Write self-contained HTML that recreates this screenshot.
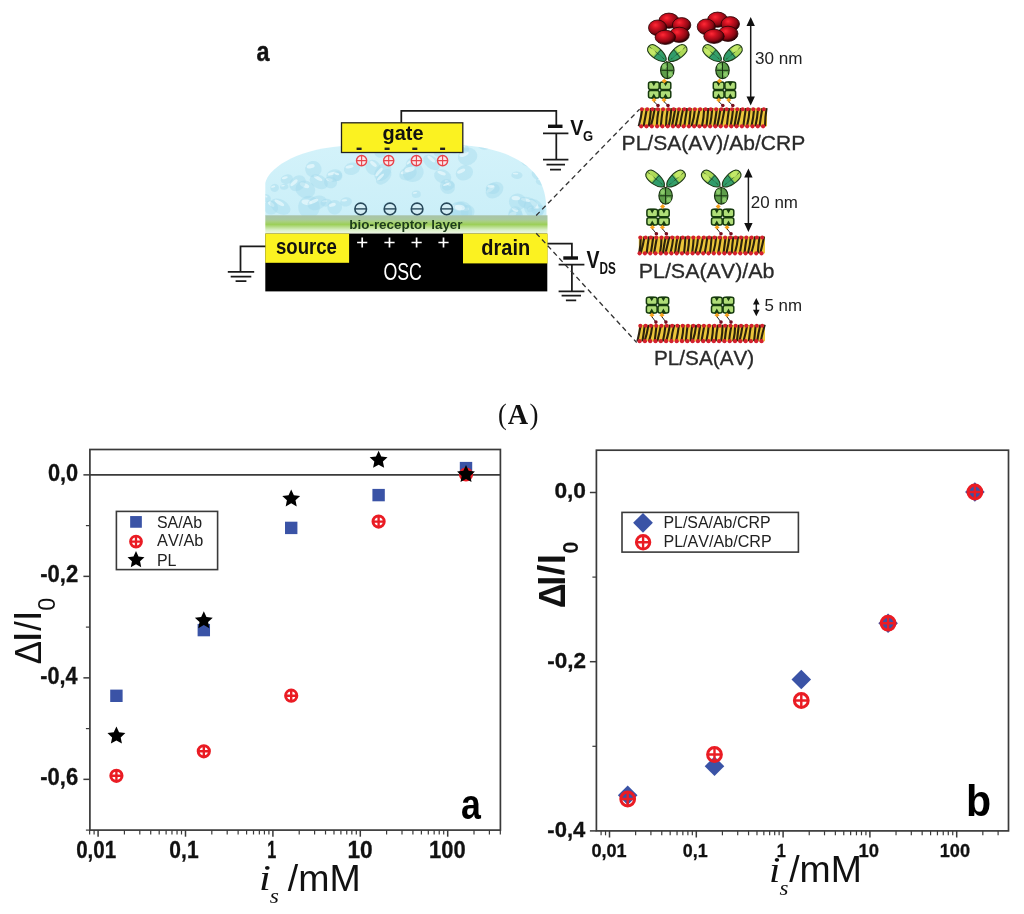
<!DOCTYPE html>
<html><head><meta charset="utf-8"><title>Figure</title>
<style>html,body{margin:0;padding:0;background:#fff;width:1024px;height:914px;overflow:hidden}svg{display:block}text{font-kerning:none}</style>
</head><body>
<svg width="1024" height="914" viewBox="0 0 1024 914" style="font-kerning:none">
<rect width="1024" height="914" fill="#fff"/>
<defs>
<linearGradient id="water" x1="0" y1="0" x2="0" y2="1">
<stop offset="0" stop-color="#d3f2fa"/><stop offset="1" stop-color="#cbeff8"/></linearGradient>
<linearGradient id="bio" x1="0" y1="0" x2="0" y2="1">
<stop offset="0" stop-color="#a9c3a8"/><stop offset="0.22" stop-color="#a9c9a0"/><stop offset="0.35" stop-color="#a8d07e"/><stop offset="0.5" stop-color="#9ccf58"/><stop offset="0.8" stop-color="#d9efc6"/><stop offset="1" stop-color="#eef8e6"/></linearGradient>
<radialGradient id="crp" cx="0.4" cy="0.35" r="0.7">
<stop offset="0" stop-color="#f0303a"/><stop offset="0.55" stop-color="#c3101c"/><stop offset="1" stop-color="#5a0508"/></radialGradient>
<clipPath id="blobclip"><path d="M265.3,216 V183 C268,170 292,150 342,146 L465,145.5 C500,148 528,160 540,181 C545,191 546.5,200 546.5,216 Z"/></clipPath>
</defs>
<text transform="translate(256.60,60.62) scale(0.8237,1)" font-family='"Liberation Sans", Arial, sans-serif' font-weight="bold" font-size="28.36" fill="#111" stroke="#111" stroke-width="0.45">a</text>
<path d="M265.3,216 V183 C268,170 292,150 342,146 L465,145.5 C500,148 528,160 540,181 C545,191 546.5,200 546.5,216 Z" fill="url(#water)"/>
<g clip-path="url(#blobclip)"><g transform="translate(330.5,182.4) rotate(13)"><ellipse rx="6.6" ry="5.9" fill="#a2d8ec" opacity="0.42"/><ellipse cx="-1.6" cy="-2.4" rx="3.3" ry="1.5" fill="#f4fdff" opacity="0.6"/></g><g transform="translate(280.9,141.0) rotate(-27)"><ellipse rx="9.9" ry="7.2" fill="#a2d8ec" opacity="0.42"/><ellipse cx="-2.5" cy="-2.9" rx="4.9" ry="1.8" fill="#f4fdff" opacity="0.6"/></g><g transform="translate(548.7,176.7) rotate(14)"><ellipse rx="9.9" ry="8.3" fill="#a2d8ec" opacity="0.42"/><ellipse cx="-2.5" cy="-3.3" rx="4.9" ry="2.1" fill="#f4fdff" opacity="0.6"/></g><g transform="translate(305.4,189.5) rotate(24)"><ellipse rx="10.1" ry="8.7" fill="#a2d8ec" opacity="0.42"/><ellipse cx="-2.5" cy="-3.5" rx="5.0" ry="2.2" fill="#f4fdff" opacity="0.6"/></g><g transform="translate(455.4,145.0) rotate(-20)"><ellipse rx="9.3" ry="8.3" fill="#a2d8ec" opacity="0.42"/><ellipse cx="-2.3" cy="-3.3" rx="4.7" ry="2.1" fill="#f4fdff" opacity="0.6"/></g><g transform="translate(270.9,207.5) rotate(38)"><ellipse rx="7.3" ry="7.0" fill="#a2d8ec" opacity="0.42"/><ellipse cx="-1.8" cy="-2.8" rx="3.7" ry="1.8" fill="#f4fdff" opacity="0.6"/></g><g transform="translate(467.7,211.8) rotate(-6)"><ellipse rx="6.8" ry="6.8" fill="#a2d8ec" opacity="0.42"/><ellipse cx="-1.7" cy="-2.7" rx="3.4" ry="1.7" fill="#f4fdff" opacity="0.6"/></g><g transform="translate(531.4,208.6) rotate(-28)"><ellipse rx="4.7" ry="3.1" fill="#a2d8ec" opacity="0.42"/><ellipse cx="-1.2" cy="-1.3" rx="2.3" ry="0.8" fill="#f4fdff" opacity="0.6"/></g><g transform="translate(540.1,174.0) rotate(1)"><ellipse rx="8.4" ry="6.3" fill="#a2d8ec" opacity="0.42"/><ellipse cx="-2.1" cy="-2.5" rx="4.2" ry="1.6" fill="#f4fdff" opacity="0.6"/></g><g transform="translate(373.1,167.4) rotate(40)"><ellipse rx="8.1" ry="7.2" fill="#a2d8ec" opacity="0.42"/><ellipse cx="-2.0" cy="-2.9" rx="4.0" ry="1.8" fill="#f4fdff" opacity="0.6"/></g><g transform="translate(458.4,212.5) rotate(17)"><ellipse rx="10.0" ry="10.9" fill="#a2d8ec" opacity="0.42"/><ellipse cx="-2.5" cy="-4.4" rx="5.0" ry="2.7" fill="#f4fdff" opacity="0.6"/></g><g transform="translate(309.0,207.1) rotate(7)"><ellipse rx="10.8" ry="11.3" fill="#a2d8ec" opacity="0.42"/><ellipse cx="-2.7" cy="-4.5" rx="5.4" ry="2.8" fill="#f4fdff" opacity="0.6"/></g><g transform="translate(467.6,156.5) rotate(-22)"><ellipse rx="9.8" ry="8.7" fill="#a2d8ec" opacity="0.42"/><ellipse cx="-2.5" cy="-3.5" rx="4.9" ry="2.2" fill="#f4fdff" opacity="0.6"/></g><g transform="translate(280.3,206.6) rotate(30)"><ellipse rx="10.9" ry="7.0" fill="#a2d8ec" opacity="0.42"/><ellipse cx="-2.7" cy="-2.8" rx="5.5" ry="1.8" fill="#f4fdff" opacity="0.6"/></g><g transform="translate(380.2,151.8) rotate(37)"><ellipse rx="6.1" ry="6.0" fill="#a2d8ec" opacity="0.42"/><ellipse cx="-1.5" cy="-2.4" rx="3.0" ry="1.5" fill="#f4fdff" opacity="0.6"/></g><g transform="translate(274.7,187.9) rotate(-17)"><ellipse rx="4.3" ry="4.1" fill="#a2d8ec" opacity="0.42"/><ellipse cx="-1.1" cy="-1.7" rx="2.2" ry="1.0" fill="#f4fdff" opacity="0.6"/></g><g transform="translate(515.7,216.5) rotate(-19)"><ellipse rx="7.5" ry="8.3" fill="#a2d8ec" opacity="0.42"/><ellipse cx="-1.9" cy="-3.3" rx="3.8" ry="2.1" fill="#f4fdff" opacity="0.6"/></g><g transform="translate(284.2,186.8) rotate(-9)"><ellipse rx="4.2" ry="2.9" fill="#a2d8ec" opacity="0.42"/><ellipse cx="-1.1" cy="-1.2" rx="2.1" ry="0.7" fill="#f4fdff" opacity="0.6"/></g><g transform="translate(437.8,152.2) rotate(-19)"><ellipse rx="4.3" ry="4.4" fill="#a2d8ec" opacity="0.42"/><ellipse cx="-1.1" cy="-1.8" rx="2.1" ry="1.1" fill="#f4fdff" opacity="0.6"/></g><g transform="translate(538.1,209.9) rotate(2)"><ellipse rx="6.6" ry="5.5" fill="#a2d8ec" opacity="0.42"/><ellipse cx="-1.7" cy="-2.2" rx="3.3" ry="1.4" fill="#f4fdff" opacity="0.6"/></g><g transform="translate(447.4,186.5) rotate(44)"><ellipse rx="7.9" ry="7.2" fill="#a2d8ec" opacity="0.42"/><ellipse cx="-2.0" cy="-2.9" rx="4.0" ry="1.8" fill="#f4fdff" opacity="0.6"/></g><g transform="translate(408.0,173.6) rotate(-20)"><ellipse rx="9.0" ry="6.5" fill="#a2d8ec" opacity="0.42"/><ellipse cx="-2.3" cy="-2.6" rx="4.5" ry="1.6" fill="#f4fdff" opacity="0.6"/></g><g transform="translate(543.6,180.6) rotate(-8)"><ellipse rx="7.8" ry="4.7" fill="#a2d8ec" opacity="0.42"/><ellipse cx="-2.0" cy="-1.9" rx="3.9" ry="1.2" fill="#f4fdff" opacity="0.6"/></g><g transform="translate(429.0,141.6) rotate(-44)"><ellipse rx="8.3" ry="7.6" fill="#a2d8ec" opacity="0.42"/><ellipse cx="-2.1" cy="-3.0" rx="4.2" ry="1.9" fill="#f4fdff" opacity="0.6"/></g><g transform="translate(442.7,176.4) rotate(21)"><ellipse rx="8.8" ry="6.8" fill="#a2d8ec" opacity="0.42"/><ellipse cx="-2.2" cy="-2.7" rx="4.4" ry="1.7" fill="#f4fdff" opacity="0.6"/></g><g transform="translate(474.6,141.7) rotate(46)"><ellipse rx="4.4" ry="4.1" fill="#a2d8ec" opacity="0.42"/><ellipse cx="-1.1" cy="-1.7" rx="2.2" ry="1.0" fill="#f4fdff" opacity="0.6"/></g><g transform="translate(334.3,175.6) rotate(-14)"><ellipse rx="8.1" ry="6.2" fill="#a2d8ec" opacity="0.42"/><ellipse cx="-2.0" cy="-2.5" rx="4.1" ry="1.5" fill="#f4fdff" opacity="0.6"/></g><g transform="translate(352.0,168.8) rotate(-12)"><ellipse rx="8.2" ry="6.1" fill="#a2d8ec" opacity="0.42"/><ellipse cx="-2.0" cy="-2.5" rx="4.1" ry="1.5" fill="#f4fdff" opacity="0.6"/></g><g transform="translate(484.4,142.1) rotate(-19)"><ellipse rx="8.0" ry="7.7" fill="#a2d8ec" opacity="0.42"/><ellipse cx="-2.0" cy="-3.1" rx="4.0" ry="1.9" fill="#f4fdff" opacity="0.6"/></g><g transform="translate(326.1,202.7) rotate(-6)"><ellipse rx="5.7" ry="3.9" fill="#a2d8ec" opacity="0.42"/><ellipse cx="-1.4" cy="-1.6" rx="2.8" ry="1.0" fill="#f4fdff" opacity="0.6"/></g><g transform="translate(463.0,147.9) rotate(33)"><ellipse rx="6.3" ry="4.8" fill="#a2d8ec" opacity="0.42"/><ellipse cx="-1.6" cy="-1.9" rx="3.1" ry="1.2" fill="#f4fdff" opacity="0.6"/></g><g transform="translate(388.3,206.7) rotate(15)"><ellipse rx="5.2" ry="4.0" fill="#a2d8ec" opacity="0.42"/><ellipse cx="-1.3" cy="-1.6" rx="2.6" ry="1.0" fill="#f4fdff" opacity="0.6"/></g><g transform="translate(516.9,175.2) rotate(3)"><ellipse rx="5.6" ry="3.7" fill="#a2d8ec" opacity="0.42"/><ellipse cx="-1.4" cy="-1.5" rx="2.8" ry="0.9" fill="#f4fdff" opacity="0.6"/></g><g transform="translate(317.0,202.9) rotate(-22)"><ellipse rx="9.9" ry="6.8" fill="#a2d8ec" opacity="0.42"/><ellipse cx="-2.5" cy="-2.7" rx="4.9" ry="1.7" fill="#f4fdff" opacity="0.6"/></g><g transform="translate(494.5,190.1) rotate(-37)"><ellipse rx="9.6" ry="7.5" fill="#a2d8ec" opacity="0.42"/><ellipse cx="-2.4" cy="-3.0" rx="4.8" ry="1.9" fill="#f4fdff" opacity="0.6"/></g><g transform="translate(346.1,201.9) rotate(-8)"><ellipse rx="5.9" ry="4.6" fill="#a2d8ec" opacity="0.42"/><ellipse cx="-1.5" cy="-1.8" rx="2.9" ry="1.1" fill="#f4fdff" opacity="0.6"/></g><g transform="translate(382.9,171.9) rotate(-50)"><ellipse rx="10.4" ry="7.1" fill="#a2d8ec" opacity="0.42"/><ellipse cx="-2.6" cy="-2.8" rx="5.2" ry="1.8" fill="#f4fdff" opacity="0.6"/></g><g transform="translate(533.7,208.6) rotate(45)"><ellipse rx="10.9" ry="8.9" fill="#a2d8ec" opacity="0.42"/><ellipse cx="-2.7" cy="-3.6" rx="5.5" ry="2.2" fill="#f4fdff" opacity="0.6"/></g><g transform="translate(529.1,157.3) rotate(16)"><ellipse rx="9.2" ry="9.4" fill="#a2d8ec" opacity="0.42"/><ellipse cx="-2.3" cy="-3.8" rx="4.6" ry="2.3" fill="#f4fdff" opacity="0.6"/></g><g transform="translate(411.5,162.5) rotate(-43)"><ellipse rx="6.4" ry="4.6" fill="#a2d8ec" opacity="0.42"/><ellipse cx="-1.6" cy="-1.8" rx="3.2" ry="1.1" fill="#f4fdff" opacity="0.6"/></g><g transform="translate(431.5,162.4) rotate(40)"><ellipse rx="9.7" ry="6.0" fill="#a2d8ec" opacity="0.42"/><ellipse cx="-2.4" cy="-2.4" rx="4.8" ry="1.5" fill="#f4fdff" opacity="0.6"/></g><g transform="translate(461.8,212.1) rotate(8)"><ellipse rx="10.3" ry="10.8" fill="#a2d8ec" opacity="0.42"/><ellipse cx="-2.6" cy="-4.3" rx="5.1" ry="2.7" fill="#f4fdff" opacity="0.6"/></g><g transform="translate(265.8,198.1) rotate(16)"><ellipse rx="5.2" ry="3.9" fill="#a2d8ec" opacity="0.42"/><ellipse cx="-1.3" cy="-1.6" rx="2.6" ry="1.0" fill="#f4fdff" opacity="0.6"/></g><g transform="translate(413.2,172.3) rotate(-16)"><ellipse rx="10.6" ry="9.6" fill="#a2d8ec" opacity="0.42"/><ellipse cx="-2.6" cy="-3.8" rx="5.3" ry="2.4" fill="#f4fdff" opacity="0.6"/></g><g transform="translate(334.7,207.2) rotate(-15)"><ellipse rx="7.3" ry="7.3" fill="#a2d8ec" opacity="0.42"/><ellipse cx="-1.8" cy="-2.9" rx="3.7" ry="1.8" fill="#f4fdff" opacity="0.6"/></g><g transform="translate(318.8,181.7) rotate(29)"><ellipse rx="9.7" ry="6.7" fill="#a2d8ec" opacity="0.42"/><ellipse cx="-2.4" cy="-2.7" rx="4.9" ry="1.7" fill="#f4fdff" opacity="0.6"/></g><g transform="translate(527.5,202.9) rotate(13)"><ellipse rx="9.8" ry="5.9" fill="#a2d8ec" opacity="0.42"/><ellipse cx="-2.4" cy="-2.4" rx="4.9" ry="1.5" fill="#f4fdff" opacity="0.6"/></g><g transform="translate(510.4,143.9) rotate(3)"><ellipse rx="5.9" ry="4.3" fill="#a2d8ec" opacity="0.42"/><ellipse cx="-1.5" cy="-1.7" rx="2.9" ry="1.1" fill="#f4fdff" opacity="0.6"/></g><g transform="translate(383.8,176.9) rotate(-45)"><ellipse rx="9.4" ry="5.7" fill="#a2d8ec" opacity="0.42"/><ellipse cx="-2.4" cy="-2.3" rx="4.7" ry="1.4" fill="#f4fdff" opacity="0.6"/></g><g transform="translate(298.5,149.7) rotate(35)"><ellipse rx="4.5" ry="4.9" fill="#a2d8ec" opacity="0.42"/><ellipse cx="-1.1" cy="-1.9" rx="2.2" ry="1.2" fill="#f4fdff" opacity="0.6"/></g><g transform="translate(286.8,179.2) rotate(-15)"><ellipse rx="6.2" ry="4.7" fill="#a2d8ec" opacity="0.42"/><ellipse cx="-1.6" cy="-1.9" rx="3.1" ry="1.2" fill="#f4fdff" opacity="0.6"/></g><g transform="translate(448.3,185.8) rotate(-17)"><ellipse rx="6.5" ry="4.5" fill="#a2d8ec" opacity="0.42"/><ellipse cx="-1.6" cy="-1.8" rx="3.3" ry="1.1" fill="#f4fdff" opacity="0.6"/></g><g transform="translate(297.6,183.3) rotate(-42)"><ellipse rx="9.0" ry="7.1" fill="#a2d8ec" opacity="0.42"/><ellipse cx="-2.3" cy="-2.8" rx="4.5" ry="1.8" fill="#f4fdff" opacity="0.6"/></g><g transform="translate(313.4,169.1) rotate(-12)"><ellipse rx="8.2" ry="8.2" fill="#a2d8ec" opacity="0.42"/><ellipse cx="-2.1" cy="-3.3" rx="4.1" ry="2.0" fill="#f4fdff" opacity="0.6"/></g><g transform="translate(492.7,188.6) rotate(-0)"><ellipse rx="7.0" ry="5.5" fill="#a2d8ec" opacity="0.42"/><ellipse cx="-1.8" cy="-2.2" rx="3.5" ry="1.4" fill="#f4fdff" opacity="0.6"/></g><g transform="translate(464.4,172.8) rotate(-25)"><ellipse rx="8.9" ry="7.4" fill="#a2d8ec" opacity="0.42"/><ellipse cx="-2.2" cy="-2.9" rx="4.4" ry="1.8" fill="#f4fdff" opacity="0.6"/></g><g transform="translate(416.3,194.2) rotate(-7)"><ellipse rx="4.5" ry="3.7" fill="#a2d8ec" opacity="0.42"/><ellipse cx="-1.1" cy="-1.5" rx="2.3" ry="0.9" fill="#f4fdff" opacity="0.6"/></g><g transform="translate(515.3,213.0) rotate(29)"><ellipse rx="6.6" ry="6.9" fill="#a2d8ec" opacity="0.42"/><ellipse cx="-1.7" cy="-2.8" rx="3.3" ry="1.7" fill="#f4fdff" opacity="0.6"/></g><g transform="translate(337.5,176.2) rotate(16)"><ellipse rx="4.9" ry="4.9" fill="#a2d8ec" opacity="0.42"/><ellipse cx="-1.2" cy="-2.0" rx="2.4" ry="1.2" fill="#f4fdff" opacity="0.6"/></g><g transform="translate(517.6,201.8) rotate(6)"><ellipse rx="8.7" ry="8.4" fill="#a2d8ec" opacity="0.42"/><ellipse cx="-2.2" cy="-3.4" rx="4.3" ry="2.1" fill="#f4fdff" opacity="0.6"/></g></g>
<rect x="265.3" y="215.3" width="282.2" height="18.3" fill="url(#bio)"/>
<text transform="translate(349.33,228.97) scale(1.0380,1)" font-family='"Liberation Sans", Arial, sans-serif' font-weight="bold" font-size="12.93" fill="#1d3d1b" >bio-receptor layer</text>
<rect x="265.3" y="233.6" width="282" height="57.8" fill="#000"/>
<rect x="265.3" y="233.6" width="83.8" height="29.2" fill="#fbf221"/>
<rect x="463" y="233.6" width="84.6" height="29.8" fill="#fbf221"/>
<text transform="translate(275.95,254.37) scale(0.8118,1)" font-family='"Liberation Sans", Arial, sans-serif' font-weight="bold" font-size="22.91" fill="#111" >source</text>
<text transform="translate(481.20,255.08) scale(0.9265,1)" font-family='"Liberation Sans", Arial, sans-serif' font-weight="bold" font-size="21.63" fill="#111" >drain</text>
<text transform="translate(383.40,280.37) scale(0.7608,1)" font-family='"Liberation Sans", Arial, sans-serif'  font-size="23.38" fill="#fff" >OSC</text>
<path d="M357.09999999999997,242.5 H367.3 M362.2,237.4 V247.6" stroke="#fff" stroke-width="1.7"/>
<path d="M384.4,242.5 H394.6 M389.5,237.4 V247.6" stroke="#fff" stroke-width="1.7"/>
<path d="M411.5,242.5 H421.70000000000005 M416.6,237.4 V247.6" stroke="#fff" stroke-width="1.7"/>
<path d="M438.4,242.5 H448.6 M443.5,237.4 V247.6" stroke="#fff" stroke-width="1.7"/>
<rect x="341.5" y="122.8" width="121.3" height="29.7" fill="#fbf221" stroke="#222" stroke-width="1.3"/>
<text transform="translate(382.50,139.99) scale(0.9710,1)" font-family='"Liberation Sans", Arial, sans-serif' font-weight="bold" font-size="20.55" fill="#111" >gate</text>
<rect x="356.6" y="147.6" width="5" height="2.4" fill="#222"/>
<rect x="384.6" y="147.6" width="5" height="2.4" fill="#222"/>
<rect x="412.3" y="147.6" width="5" height="2.4" fill="#222"/>
<rect x="440.1" y="147.6" width="5" height="2.4" fill="#222"/>
<circle cx="361.6" cy="160.6" r="5.1" fill="#fbe6ea" stroke="#e8444c" stroke-width="1.4"/>
<path d="M356.6,160.6 H366.6 M361.6,155.6 V165.6" stroke="#e8444c" stroke-width="1.1"/>
<circle cx="388.7" cy="160.6" r="5.1" fill="#fbe6ea" stroke="#e8444c" stroke-width="1.4"/>
<path d="M383.7,160.6 H393.7 M388.7,155.6 V165.6" stroke="#e8444c" stroke-width="1.1"/>
<circle cx="416.4" cy="160.6" r="5.1" fill="#fbe6ea" stroke="#e8444c" stroke-width="1.4"/>
<path d="M411.4,160.6 H421.4 M416.4,155.6 V165.6" stroke="#e8444c" stroke-width="1.1"/>
<circle cx="442.6" cy="160.6" r="5.1" fill="#fbe6ea" stroke="#e8444c" stroke-width="1.4"/>
<path d="M437.6,160.6 H447.6 M442.6,155.6 V165.6" stroke="#e8444c" stroke-width="1.1"/>
<circle cx="360.7" cy="208.9" r="5.8" fill="#d4eef5" stroke="#27485a" stroke-width="1.6"/>
<path d="M354.9,208.9 H366.5" stroke="#27485a" stroke-width="1.4"/>
<circle cx="390" cy="208.9" r="5.8" fill="#d4eef5" stroke="#27485a" stroke-width="1.6"/>
<path d="M384.2,208.9 H395.8" stroke="#27485a" stroke-width="1.4"/>
<circle cx="417.1" cy="208.9" r="5.8" fill="#d4eef5" stroke="#27485a" stroke-width="1.6"/>
<path d="M411.3,208.9 H422.90000000000003" stroke="#27485a" stroke-width="1.4"/>
<circle cx="446.7" cy="208.9" r="5.8" fill="#d4eef5" stroke="#27485a" stroke-width="1.6"/>
<path d="M440.9,208.9 H452.5" stroke="#27485a" stroke-width="1.4"/>
<path d="M401.3,122.8 V110.9 H556.3 V126.3" stroke="#1a1a1a" stroke-width="1.75" fill="none"/>
<rect x="548" y="124.6" width="14.5" height="3.4" fill="#111"/>
<path d="M543,133.4 H568.4 M556.3,133.4 V159.7 M543,159.7 H568.4 M546.5,164.6 H565 M550,169.5 H561" stroke="#1a1a1a" stroke-width="1.75" fill="none"/>
<text transform="translate(570.30,134.90) scale(0.8722,1)" font-family='"Liberation Sans", Arial, sans-serif' font-weight="bold" font-size="22.75" fill="#111" >V</text>
<text transform="translate(582.88,140.55) scale(0.8816,1)" font-family='"Liberation Sans", Arial, sans-serif' font-weight="bold" font-size="14.79" fill="#111" >G</text>
<path d="M265.3,246.4 H240.5 V271.8 M227.8,271.8 H254.2 M230.7,276.7 H251.3 M235.6,281 H246.4" stroke="#1a1a1a" stroke-width="1.75" fill="none"/>
<path d="M547.5,243.6 H571.9 V258" stroke="#1a1a1a" stroke-width="1.75" fill="none"/>
<rect x="563.3" y="256.3" width="14.7" height="3.4" fill="#111"/>
<path d="M558.6,264.5 H584.4 M571.9,264.5 V291.3 M558.6,291.3 H584.4 M561.6,295.6 H581 M565.9,300.3 H576.2" stroke="#1a1a1a" stroke-width="1.75" fill="none"/>
<text transform="translate(586.40,268.30) scale(0.8479,1)" font-family='"Liberation Sans", Arial, sans-serif' font-weight="bold" font-size="23.04" fill="#111" >V</text>
<text transform="translate(599.54,273.54) scale(0.7319,1)" font-family='"Liberation Sans", Arial, sans-serif' font-weight="bold" font-size="16.06" fill="#111" >DS</text>
<defs>
<radialGradient id="crpg" cx="0.4" cy="0.36" r="0.68" fx="0.38" fy="0.32">
<stop offset="0" stop-color="#ff2a36"/><stop offset="0.3" stop-color="#d41222"/><stop offset="0.68" stop-color="#8e0814"/><stop offset="0.9" stop-color="#3a0206"/><stop offset="1" stop-color="#1a0002"/></radialGradient>
<linearGradient id="armg" x1="0" y1="0" x2="1" y2="0">
<stop offset="0" stop-color="#2f9a66"/><stop offset="0.5" stop-color="#3aa36c"/><stop offset="0.54" stop-color="#a8d652"/><stop offset="1" stop-color="#b8e060"/></linearGradient>
<linearGradient id="memg" x1="0" y1="0" x2="0" y2="1">
<stop offset="0" stop-color="#e8b52a"/><stop offset="0.5" stop-color="#f0cc30"/><stop offset="1" stop-color="#e0a828"/></linearGradient>
</defs>
<rect x="640.4" y="108.2" width="126.60000000000002" height="18.1" fill="#ecc63a"/>
<path d="M642.4,108.2 Q641.1,117.8 638.7,126.3 M646.9,108.2 Q645.2,117.8 643.6,126.3 M651.1,108.2 Q650.3,117.8 648.7,126.3 M654.8,108.2 Q653.3,117.8 650.8,126.3 M658.9,108.2 Q657.0,117.8 656.8,126.3 M663.0,108.2 Q661.5,117.8 660.8,126.3 M667.8,108.2 Q666.1,117.8 666.0,126.3 M671.4,108.2 Q670.8,117.8 668.7,126.3 M675.4,108.2 Q673.6,117.8 672.0,126.3 M679.1,108.2 Q677.3,117.8 675.6,126.3 M683.3,108.2 Q681.1,117.8 679.9,126.3 M687.1,108.2 Q685.4,117.8 684.3,126.3 M690.8,108.2 Q689.9,117.8 688.9,126.3 M695.1,108.2 Q694.2,117.8 691.6,126.3 M699.8,108.2 Q697.6,117.8 696.1,126.3 M704.2,108.2 Q703.8,117.8 702.0,126.3 M708.3,108.2 Q707.6,117.8 706.4,126.3 M712.3,108.2 Q711.6,117.8 709.8,126.3 M716.9,108.2 Q715.7,117.8 714.2,126.3 M720.6,108.2 Q719.3,117.8 717.2,126.3 M724.7,108.2 Q723.0,117.8 721.1,126.3 M729.1,108.2 Q727.7,117.8 726.8,126.3 M733.2,108.2 Q732.3,117.8 730.5,126.3 M737.5,108.2 Q735.9,117.8 734.4,126.3 M741.1,108.2 Q739.5,117.8 737.2,126.3 M745.9,108.2 Q744.4,117.8 743.3,126.3 M749.7,108.2 Q749.1,117.8 746.9,126.3 M754.2,108.2 Q753.4,117.8 751.5,126.3 M758.1,108.2 Q757.4,117.8 755.4,126.3 M762.4,108.2 Q760.6,117.8 759.5,126.3 M766.6,108.2 Q765.0,117.8 765.0,126.3" stroke="#1c1408" stroke-width="2.1" fill="none" opacity="0.92"/>
<g fill="#d4202e"><circle cx="641.9" cy="109.2" r="2.0"/><circle cx="647.2" cy="109.2" r="2.0"/><circle cx="652.5" cy="109.2" r="2.0"/><circle cx="657.8" cy="109.2" r="2.0"/><circle cx="663.1" cy="109.2" r="2.0"/><circle cx="668.4" cy="109.2" r="2.0"/><circle cx="673.7" cy="109.2" r="2.0"/><circle cx="679.0" cy="109.2" r="2.0"/><circle cx="684.3" cy="109.2" r="2.0"/><circle cx="689.6" cy="109.2" r="2.0"/><circle cx="694.9" cy="109.2" r="2.0"/><circle cx="700.2" cy="109.2" r="2.0"/><circle cx="705.5" cy="109.2" r="2.0"/><circle cx="710.8" cy="109.2" r="2.0"/><circle cx="716.1" cy="109.2" r="2.0"/><circle cx="721.4" cy="109.2" r="2.0"/><circle cx="726.7" cy="109.2" r="2.0"/><circle cx="732.0" cy="109.2" r="2.0"/><circle cx="737.3" cy="109.2" r="2.0"/><circle cx="742.6" cy="109.2" r="2.0"/><circle cx="747.9" cy="109.2" r="2.0"/><circle cx="753.2" cy="109.2" r="2.0"/><circle cx="758.5" cy="109.2" r="2.0"/><circle cx="763.8" cy="109.2" r="2.0"/><circle cx="641.2" cy="126.3" r="2.1"/><circle cx="646.5" cy="126.3" r="2.1"/><circle cx="651.8" cy="126.3" r="2.1"/><circle cx="657.1" cy="126.3" r="2.1"/><circle cx="662.4" cy="126.3" r="2.1"/><circle cx="667.7" cy="126.3" r="2.1"/><circle cx="673.0" cy="126.3" r="2.1"/><circle cx="678.3" cy="126.3" r="2.1"/><circle cx="683.6" cy="126.3" r="2.1"/><circle cx="688.9" cy="126.3" r="2.1"/><circle cx="694.2" cy="126.3" r="2.1"/><circle cx="699.5" cy="126.3" r="2.1"/><circle cx="704.8" cy="126.3" r="2.1"/><circle cx="710.1" cy="126.3" r="2.1"/><circle cx="715.4" cy="126.3" r="2.1"/><circle cx="720.7" cy="126.3" r="2.1"/><circle cx="726.0" cy="126.3" r="2.1"/><circle cx="731.3" cy="126.3" r="2.1"/><circle cx="736.6" cy="126.3" r="2.1"/><circle cx="741.9" cy="126.3" r="2.1"/><circle cx="747.2" cy="126.3" r="2.1"/><circle cx="752.5" cy="126.3" r="2.1"/><circle cx="757.8" cy="126.3" r="2.1"/><circle cx="763.1" cy="126.3" r="2.1"/></g>
<rect x="648.5" y="82.1" width="10.7" height="7.4" rx="2" fill="#b0de78" stroke="#163a0e" stroke-width="1.5"/><path d="M651.2,81.6 L656.4,81.6 L653.8,86.2 Z" fill="#163a0e"/><rect x="648.5" y="90.5" width="10.7" height="7.4" rx="2" fill="#b0de78" stroke="#163a0e" stroke-width="1.5"/><path d="M651.0,98.4 L656.6,98.4 L653.8,93.4 Z" fill="#163a0e"/><rect x="660.1" y="82.1" width="10.7" height="7.4" rx="2" fill="#b0de78" stroke="#163a0e" stroke-width="1.5"/><path d="M662.9,81.6 L668.1,81.6 L665.5,86.2 Z" fill="#163a0e"/><rect x="660.1" y="90.5" width="10.7" height="7.4" rx="2" fill="#b0de78" stroke="#163a0e" stroke-width="1.5"/><path d="M662.7,98.4 L668.3,98.4 L665.5,93.4 Z" fill="#163a0e"/>
<path d="M654.0,97.5 L655.17,98.92999999999999 L656.6,100.1 L655.17,101.27 L654.0,102.69999999999999 L652.83,101.27 L651.4,100.1 L652.83,98.92999999999999 Z" fill="#f7a21c"/>
<path d="M654.0,101.6 L658.0,105.5" stroke="#2a2a2a" stroke-width="1" fill="none"/><circle cx="658.0" cy="105.5" r="1.8" fill="#7a1020"/>
<path d="M664.0,97.5 L665.17,98.92999999999999 L666.6,100.1 L665.17,101.27 L664.0,102.69999999999999 L662.83,101.27 L661.4,100.1 L662.83,98.92999999999999 Z" fill="#f7a21c"/>
<path d="M664.0,101.6 L668.0,105.5" stroke="#2a2a2a" stroke-width="1" fill="none"/><circle cx="668.0" cy="105.5" r="1.8" fill="#7a1020"/>
<path d="M664.3,78.4 L665.4699999999999,79.83 L666.9,81.0 L665.4699999999999,82.17 L664.3,83.6 L663.13,82.17 L661.6999999999999,81.0 L663.13,79.83 Z" fill="#f7a21c"/>
<g transform="translate(665.5,60.5) rotate(-140)"><path d="M0,-1 C3,-5.8 15,-6.6 20,-4 C22.6,-2 22.6,2 20,4 C15,6.4 3,5.4 0,1 Z" fill="url(#armg)" stroke="#1f3a18" stroke-width="1.1"/><path d="M2,0.2 C8,0.4 15,0.3 21.5,0.2" stroke="#1f3a18" stroke-width="0.6" fill="none"/><path d="M10.5,-5.6 L10.2,5.2" stroke="#1f3a18" stroke-width="0.7"/><ellipse cx="15.8" cy="-1.8" rx="3.4" ry="2.6" fill="#c6ea6a" opacity="0.9"/><ellipse cx="6.5" cy="-1.5" rx="3" ry="2.4" fill="#2e9a6c" opacity="0.8"/></g><g transform="translate(669.0999999999999,60.5) rotate(-40)"><path d="M0,-1 C3,-5.8 15,-6.6 20,-4 C22.6,-2 22.6,2 20,4 C15,6.4 3,5.4 0,1 Z" fill="url(#armg)" stroke="#1f3a18" stroke-width="1.1"/><path d="M2,0.2 C8,0.4 15,0.3 21.5,0.2" stroke="#1f3a18" stroke-width="0.6" fill="none"/><path d="M10.5,-5.6 L10.2,5.2" stroke="#1f3a18" stroke-width="0.7"/><ellipse cx="15.8" cy="-1.8" rx="3.4" ry="2.6" fill="#c6ea6a" opacity="0.9"/><ellipse cx="6.5" cy="-1.5" rx="3" ry="2.4" fill="#2e9a6c" opacity="0.8"/></g><path d="M665.8,60.5 L667.3,62.5 L668.8,60.5" stroke="#4a3a30" stroke-width="1" fill="none"/><ellipse cx="667.3" cy="70.3" rx="6.7" ry="8.3" fill="#5e9e4a" stroke="#16300f" stroke-width="1.2"/><path d="M661.3,70.3 H673.3 M667.3,62.3 V78.3" stroke="#16300f" stroke-width="1"/><ellipse cx="664.3" cy="66.3" rx="2.2" ry="2.6" fill="#8bc96a"/><ellipse cx="670.5" cy="74.3" rx="2.2" ry="2.6" fill="#8bc96a"/>
<g transform="translate(669.8,29) scale(1.0)"><ellipse cx="-0.9" cy="-8.3" rx="10" ry="7.6" fill="url(#crpg)" stroke="#2a0204" stroke-width="0.8"/><ellipse cx="11.8" cy="-4" rx="9.2" ry="7.4" fill="url(#crpg)" stroke="#2a0204" stroke-width="0.8"/><ellipse cx="-12.2" cy="-1.2" rx="9.1" ry="7.8" fill="url(#crpg)" stroke="#2a0204" stroke-width="0.8"/><ellipse cx="9.5" cy="5.8" rx="10" ry="7.6" fill="url(#crpg)" stroke="#2a0204" stroke-width="0.8"/><ellipse cx="-4.5" cy="8.3" rx="10.2" ry="7.1" fill="url(#crpg)" stroke="#2a0204" stroke-width="0.8"/></g>
<rect x="713.3" y="82.1" width="10.7" height="7.4" rx="2" fill="#b0de78" stroke="#163a0e" stroke-width="1.5"/><path d="M716.0,81.6 L721.2,81.6 L718.6,86.2 Z" fill="#163a0e"/><rect x="713.3" y="90.5" width="10.7" height="7.4" rx="2" fill="#b0de78" stroke="#163a0e" stroke-width="1.5"/><path d="M715.8,98.4 L721.4,98.4 L718.6,93.4 Z" fill="#163a0e"/><rect x="724.9" y="82.1" width="10.7" height="7.4" rx="2" fill="#b0de78" stroke="#163a0e" stroke-width="1.5"/><path d="M727.7,81.6 L732.9,81.6 L730.3,86.2 Z" fill="#163a0e"/><rect x="724.9" y="90.5" width="10.7" height="7.4" rx="2" fill="#b0de78" stroke="#163a0e" stroke-width="1.5"/><path d="M727.5,98.4 L733.1,98.4 L730.3,93.4 Z" fill="#163a0e"/>
<path d="M718.8,97.5 L719.9699999999999,98.92999999999999 L721.4,100.1 L719.9699999999999,101.27 L718.8,102.69999999999999 L717.63,101.27 L716.1999999999999,100.1 L717.63,98.92999999999999 Z" fill="#f7a21c"/>
<path d="M718.8,101.6 L722.8,105.5" stroke="#2a2a2a" stroke-width="1" fill="none"/><circle cx="722.8" cy="105.5" r="1.8" fill="#7a1020"/>
<path d="M728.8,97.5 L729.9699999999999,98.92999999999999 L731.4,100.1 L729.9699999999999,101.27 L728.8,102.69999999999999 L727.63,101.27 L726.1999999999999,100.1 L727.63,98.92999999999999 Z" fill="#f7a21c"/>
<path d="M728.8,101.6 L732.8,105.5" stroke="#2a2a2a" stroke-width="1" fill="none"/><circle cx="732.8" cy="105.5" r="1.8" fill="#7a1020"/>
<path d="M719.5,78.4 L720.67,79.83 L722.1,81.0 L720.67,82.17 L719.5,83.6 L718.33,82.17 L716.9,81.0 L718.33,79.83 Z" fill="#f7a21c"/>
<g transform="translate(720.7,60.5) rotate(-140)"><path d="M0,-1 C3,-5.8 15,-6.6 20,-4 C22.6,-2 22.6,2 20,4 C15,6.4 3,5.4 0,1 Z" fill="url(#armg)" stroke="#1f3a18" stroke-width="1.1"/><path d="M2,0.2 C8,0.4 15,0.3 21.5,0.2" stroke="#1f3a18" stroke-width="0.6" fill="none"/><path d="M10.5,-5.6 L10.2,5.2" stroke="#1f3a18" stroke-width="0.7"/><ellipse cx="15.8" cy="-1.8" rx="3.4" ry="2.6" fill="#c6ea6a" opacity="0.9"/><ellipse cx="6.5" cy="-1.5" rx="3" ry="2.4" fill="#2e9a6c" opacity="0.8"/></g><g transform="translate(724.3,60.5) rotate(-40)"><path d="M0,-1 C3,-5.8 15,-6.6 20,-4 C22.6,-2 22.6,2 20,4 C15,6.4 3,5.4 0,1 Z" fill="url(#armg)" stroke="#1f3a18" stroke-width="1.1"/><path d="M2,0.2 C8,0.4 15,0.3 21.5,0.2" stroke="#1f3a18" stroke-width="0.6" fill="none"/><path d="M10.5,-5.6 L10.2,5.2" stroke="#1f3a18" stroke-width="0.7"/><ellipse cx="15.8" cy="-1.8" rx="3.4" ry="2.6" fill="#c6ea6a" opacity="0.9"/><ellipse cx="6.5" cy="-1.5" rx="3" ry="2.4" fill="#2e9a6c" opacity="0.8"/></g><path d="M721.0,60.5 L722.5,62.5 L724.0,60.5" stroke="#4a3a30" stroke-width="1" fill="none"/><ellipse cx="722.5" cy="70.3" rx="6.7" ry="8.3" fill="#5e9e4a" stroke="#16300f" stroke-width="1.2"/><path d="M716.5,70.3 H728.5 M722.5,62.3 V78.3" stroke="#16300f" stroke-width="1"/><ellipse cx="719.5" cy="66.3" rx="2.2" ry="2.6" fill="#8bc96a"/><ellipse cx="725.7" cy="74.3" rx="2.2" ry="2.6" fill="#8bc96a"/>
<g transform="translate(718.5,28) scale(1.0)"><ellipse cx="-0.9" cy="-8.3" rx="10" ry="7.6" fill="url(#crpg)" stroke="#2a0204" stroke-width="0.8"/><ellipse cx="11.8" cy="-4" rx="9.2" ry="7.4" fill="url(#crpg)" stroke="#2a0204" stroke-width="0.8"/><ellipse cx="-12.2" cy="-1.2" rx="9.1" ry="7.8" fill="url(#crpg)" stroke="#2a0204" stroke-width="0.8"/><ellipse cx="9.5" cy="5.8" rx="10" ry="7.6" fill="url(#crpg)" stroke="#2a0204" stroke-width="0.8"/><ellipse cx="-4.5" cy="8.3" rx="10.2" ry="7.1" fill="url(#crpg)" stroke="#2a0204" stroke-width="0.8"/></g>
<path d="M750.7,25 V97.5" stroke="#1a1a1a" stroke-width="1.5"/><path d="M750.7,17 L754.9000000000001,26 L746.5,26 Z M750.7,105.5 L754.9000000000001,96.5 L746.5,96.5 Z" fill="#111"/>
<text transform="translate(754.92,64.13) scale(0.9880,1)" font-family='"Liberation Sans", Arial, sans-serif'  font-size="17.32" fill="#222" >30 nm</text>
<text transform="translate(621.62,150.40) scale(1.0452,1)" font-family='"Liberation Sans", Arial, sans-serif'  font-size="20.14" fill="#2a2a2a" stroke="#2a2a2a" stroke-width="0.3">PL/SA(AV)/Ab/CRP</text>
<rect x="638.8" y="236.5" width="126.20000000000005" height="16.8" fill="#ecc63a"/>
<path d="M640.8,236.5 Q640.7,245.4 639.2,253.3 M644.5,236.5 Q643.1,245.4 640.7,253.3 M649.0,236.5 Q647.5,245.4 646.6,253.3 M653.3,236.5 Q652.2,245.4 650.8,253.3 M657.1,236.5 Q655.4,245.4 654.1,253.3 M661.5,236.5 Q661.5,245.4 660.0,253.3 M665.8,236.5 Q664.0,245.4 662.9,253.3 M669.4,236.5 Q667.4,245.4 665.5,253.3 M673.4,236.5 Q672.5,245.4 670.4,253.3 M677.6,236.5 Q675.9,245.4 675.0,253.3 M681.3,236.5 Q679.1,245.4 678.1,253.3 M685.5,236.5 Q685.0,245.4 684.0,253.3 M689.3,236.5 Q688.9,245.4 687.5,253.3 M693.8,236.5 Q693.3,245.4 692.1,253.3 M698.3,236.5 Q697.5,245.4 695.2,253.3 M703.1,236.5 Q701.7,245.4 699.5,253.3 M707.5,236.5 Q706.2,245.4 704.7,253.3 M711.7,236.5 Q710.9,245.4 710.0,253.3 M716.3,236.5 Q715.4,245.4 713.2,253.3 M721.0,236.5 Q719.7,245.4 718.2,253.3 M725.7,236.5 Q724.6,245.4 723.5,253.3 M729.6,236.5 Q728.3,245.4 726.4,253.3 M733.4,236.5 Q732.1,245.4 731.7,253.3 M738.1,236.5 Q737.2,245.4 734.8,253.3 M742.5,236.5 Q741.2,245.4 739.8,253.3 M746.9,236.5 Q745.3,245.4 744.4,253.3 M750.8,236.5 Q750.1,245.4 748.0,253.3 M755.1,236.5 Q753.7,245.4 751.3,253.3 M759.6,236.5 Q758.2,245.4 757.8,253.3 M764.1,236.5 Q762.4,245.4 760.2,253.3" stroke="#1c1408" stroke-width="2.1" fill="none" opacity="0.92"/>
<g fill="#d4202e"><circle cx="640.3" cy="237.5" r="2.0"/><circle cx="645.6" cy="237.5" r="2.0"/><circle cx="650.9" cy="237.5" r="2.0"/><circle cx="656.2" cy="237.5" r="2.0"/><circle cx="661.5" cy="237.5" r="2.0"/><circle cx="666.8" cy="237.5" r="2.0"/><circle cx="672.1" cy="237.5" r="2.0"/><circle cx="677.4" cy="237.5" r="2.0"/><circle cx="682.7" cy="237.5" r="2.0"/><circle cx="688.0" cy="237.5" r="2.0"/><circle cx="693.3" cy="237.5" r="2.0"/><circle cx="698.6" cy="237.5" r="2.0"/><circle cx="703.9" cy="237.5" r="2.0"/><circle cx="709.2" cy="237.5" r="2.0"/><circle cx="714.5" cy="237.5" r="2.0"/><circle cx="719.8" cy="237.5" r="2.0"/><circle cx="725.1" cy="237.5" r="2.0"/><circle cx="730.4" cy="237.5" r="2.0"/><circle cx="735.7" cy="237.5" r="2.0"/><circle cx="741.0" cy="237.5" r="2.0"/><circle cx="746.3" cy="237.5" r="2.0"/><circle cx="751.6" cy="237.5" r="2.0"/><circle cx="756.9" cy="237.5" r="2.0"/><circle cx="762.2" cy="237.5" r="2.0"/><circle cx="639.6" cy="253.3" r="2.1"/><circle cx="644.9" cy="253.3" r="2.1"/><circle cx="650.2" cy="253.3" r="2.1"/><circle cx="655.5" cy="253.3" r="2.1"/><circle cx="660.8" cy="253.3" r="2.1"/><circle cx="666.1" cy="253.3" r="2.1"/><circle cx="671.4" cy="253.3" r="2.1"/><circle cx="676.7" cy="253.3" r="2.1"/><circle cx="682.0" cy="253.3" r="2.1"/><circle cx="687.3" cy="253.3" r="2.1"/><circle cx="692.6" cy="253.3" r="2.1"/><circle cx="697.9" cy="253.3" r="2.1"/><circle cx="703.2" cy="253.3" r="2.1"/><circle cx="708.5" cy="253.3" r="2.1"/><circle cx="713.8" cy="253.3" r="2.1"/><circle cx="719.1" cy="253.3" r="2.1"/><circle cx="724.4" cy="253.3" r="2.1"/><circle cx="729.7" cy="253.3" r="2.1"/><circle cx="735.0" cy="253.3" r="2.1"/><circle cx="740.3" cy="253.3" r="2.1"/><circle cx="745.6" cy="253.3" r="2.1"/><circle cx="750.9" cy="253.3" r="2.1"/><circle cx="756.2" cy="253.3" r="2.1"/><circle cx="761.5" cy="253.3" r="2.1"/></g>
<rect x="646.9" y="209.3" width="10.7" height="7.4" rx="2" fill="#b0de78" stroke="#163a0e" stroke-width="1.5"/><path d="M649.6,208.8 L654.8,208.8 L652.2,213.4 Z" fill="#163a0e"/><rect x="646.9" y="217.7" width="10.7" height="7.4" rx="2" fill="#b0de78" stroke="#163a0e" stroke-width="1.5"/><path d="M649.4,225.6 L655.0,225.6 L652.2,220.6 Z" fill="#163a0e"/><rect x="658.5" y="209.3" width="10.7" height="7.4" rx="2" fill="#b0de78" stroke="#163a0e" stroke-width="1.5"/><path d="M661.3,208.8 L666.5,208.8 L663.9,213.4 Z" fill="#163a0e"/><rect x="658.5" y="217.7" width="10.7" height="7.4" rx="2" fill="#b0de78" stroke="#163a0e" stroke-width="1.5"/><path d="M661.1,225.6 L666.7,225.6 L663.9,220.6 Z" fill="#163a0e"/>
<path d="M652.4,224.70000000000002 L653.5699999999999,226.13000000000002 L655.0,227.3 L653.5699999999999,228.47 L652.4,229.9 L651.23,228.47 L649.8,227.3 L651.23,226.13000000000002 Z" fill="#f7a21c"/>
<path d="M652.4,228.8 L656.4,233.8" stroke="#2a2a2a" stroke-width="1" fill="none"/><circle cx="656.4" cy="233.8" r="1.8" fill="#7a1020"/>
<path d="M662.4,224.70000000000002 L663.5699999999999,226.13000000000002 L665.0,227.3 L663.5699999999999,228.47 L662.4,229.9 L661.23,228.47 L659.8,227.3 L661.23,226.13000000000002 Z" fill="#f7a21c"/>
<path d="M662.4,228.8 L666.4,233.8" stroke="#2a2a2a" stroke-width="1" fill="none"/><circle cx="666.4" cy="233.8" r="1.8" fill="#7a1020"/>
<path d="M662.6,203.9 L663.77,205.33 L665.2,206.5 L663.77,207.67 L662.6,209.1 L661.4300000000001,207.67 L660.0,206.5 L661.4300000000001,205.33 Z" fill="#f7a21c"/>
<g transform="translate(663.8000000000001,186) rotate(-140)"><path d="M0,-1 C3,-5.8 15,-6.6 20,-4 C22.6,-2 22.6,2 20,4 C15,6.4 3,5.4 0,1 Z" fill="url(#armg)" stroke="#1f3a18" stroke-width="1.1"/><path d="M2,0.2 C8,0.4 15,0.3 21.5,0.2" stroke="#1f3a18" stroke-width="0.6" fill="none"/><path d="M10.5,-5.6 L10.2,5.2" stroke="#1f3a18" stroke-width="0.7"/><ellipse cx="15.8" cy="-1.8" rx="3.4" ry="2.6" fill="#c6ea6a" opacity="0.9"/><ellipse cx="6.5" cy="-1.5" rx="3" ry="2.4" fill="#2e9a6c" opacity="0.8"/></g><g transform="translate(667.4,186) rotate(-40)"><path d="M0,-1 C3,-5.8 15,-6.6 20,-4 C22.6,-2 22.6,2 20,4 C15,6.4 3,5.4 0,1 Z" fill="url(#armg)" stroke="#1f3a18" stroke-width="1.1"/><path d="M2,0.2 C8,0.4 15,0.3 21.5,0.2" stroke="#1f3a18" stroke-width="0.6" fill="none"/><path d="M10.5,-5.6 L10.2,5.2" stroke="#1f3a18" stroke-width="0.7"/><ellipse cx="15.8" cy="-1.8" rx="3.4" ry="2.6" fill="#c6ea6a" opacity="0.9"/><ellipse cx="6.5" cy="-1.5" rx="3" ry="2.4" fill="#2e9a6c" opacity="0.8"/></g><path d="M664.1,186 L665.6,188 L667.1,186" stroke="#4a3a30" stroke-width="1" fill="none"/><ellipse cx="665.6" cy="195.8" rx="6.7" ry="8.3" fill="#5e9e4a" stroke="#16300f" stroke-width="1.2"/><path d="M659.6,195.8 H671.6 M665.6,187.8 V203.8" stroke="#16300f" stroke-width="1"/><ellipse cx="662.6" cy="191.8" rx="2.2" ry="2.6" fill="#8bc96a"/><ellipse cx="668.8000000000001" cy="199.8" rx="2.2" ry="2.6" fill="#8bc96a"/>
<rect x="711.5" y="209.3" width="10.7" height="7.4" rx="2" fill="#b0de78" stroke="#163a0e" stroke-width="1.5"/><path d="M714.2,208.8 L719.4,208.8 L716.8,213.4 Z" fill="#163a0e"/><rect x="711.5" y="217.7" width="10.7" height="7.4" rx="2" fill="#b0de78" stroke="#163a0e" stroke-width="1.5"/><path d="M714.0,225.6 L719.6,225.6 L716.8,220.6 Z" fill="#163a0e"/><rect x="723.1" y="209.3" width="10.7" height="7.4" rx="2" fill="#b0de78" stroke="#163a0e" stroke-width="1.5"/><path d="M725.9,208.8 L731.1,208.8 L728.5,213.4 Z" fill="#163a0e"/><rect x="723.1" y="217.7" width="10.7" height="7.4" rx="2" fill="#b0de78" stroke="#163a0e" stroke-width="1.5"/><path d="M725.7,225.6 L731.3,225.6 L728.5,220.6 Z" fill="#163a0e"/>
<path d="M717.0,224.70000000000002 L718.17,226.13000000000002 L719.6,227.3 L718.17,228.47 L717.0,229.9 L715.83,228.47 L714.4,227.3 L715.83,226.13000000000002 Z" fill="#f7a21c"/>
<path d="M717.0,228.8 L721.0,233.8" stroke="#2a2a2a" stroke-width="1" fill="none"/><circle cx="721.0" cy="233.8" r="1.8" fill="#7a1020"/>
<path d="M727.0,224.70000000000002 L728.17,226.13000000000002 L729.6,227.3 L728.17,228.47 L727.0,229.9 L725.83,228.47 L724.4,227.3 L725.83,226.13000000000002 Z" fill="#f7a21c"/>
<path d="M727.0,228.8 L731.0,233.8" stroke="#2a2a2a" stroke-width="1" fill="none"/><circle cx="731.0" cy="233.8" r="1.8" fill="#7a1020"/>
<path d="M718.2,203.9 L719.37,205.33 L720.8000000000001,206.5 L719.37,207.67 L718.2,209.1 L717.0300000000001,207.67 L715.6,206.5 L717.0300000000001,205.33 Z" fill="#f7a21c"/>
<g transform="translate(719.4000000000001,186) rotate(-140)"><path d="M0,-1 C3,-5.8 15,-6.6 20,-4 C22.6,-2 22.6,2 20,4 C15,6.4 3,5.4 0,1 Z" fill="url(#armg)" stroke="#1f3a18" stroke-width="1.1"/><path d="M2,0.2 C8,0.4 15,0.3 21.5,0.2" stroke="#1f3a18" stroke-width="0.6" fill="none"/><path d="M10.5,-5.6 L10.2,5.2" stroke="#1f3a18" stroke-width="0.7"/><ellipse cx="15.8" cy="-1.8" rx="3.4" ry="2.6" fill="#c6ea6a" opacity="0.9"/><ellipse cx="6.5" cy="-1.5" rx="3" ry="2.4" fill="#2e9a6c" opacity="0.8"/></g><g transform="translate(723.0,186) rotate(-40)"><path d="M0,-1 C3,-5.8 15,-6.6 20,-4 C22.6,-2 22.6,2 20,4 C15,6.4 3,5.4 0,1 Z" fill="url(#armg)" stroke="#1f3a18" stroke-width="1.1"/><path d="M2,0.2 C8,0.4 15,0.3 21.5,0.2" stroke="#1f3a18" stroke-width="0.6" fill="none"/><path d="M10.5,-5.6 L10.2,5.2" stroke="#1f3a18" stroke-width="0.7"/><ellipse cx="15.8" cy="-1.8" rx="3.4" ry="2.6" fill="#c6ea6a" opacity="0.9"/><ellipse cx="6.5" cy="-1.5" rx="3" ry="2.4" fill="#2e9a6c" opacity="0.8"/></g><path d="M719.7,186 L721.2,188 L722.7,186" stroke="#4a3a30" stroke-width="1" fill="none"/><ellipse cx="721.2" cy="195.8" rx="6.7" ry="8.3" fill="#5e9e4a" stroke="#16300f" stroke-width="1.2"/><path d="M715.2,195.8 H727.2 M721.2,187.8 V203.8" stroke="#16300f" stroke-width="1"/><ellipse cx="718.2" cy="191.8" rx="2.2" ry="2.6" fill="#8bc96a"/><ellipse cx="724.4000000000001" cy="199.8" rx="2.2" ry="2.6" fill="#8bc96a"/>
<path d="M748.4,176.5 V224" stroke="#1a1a1a" stroke-width="1.5"/><path d="M748.4,168.5 L752.6,177.5 L744.1999999999999,177.5 Z M748.4,232 L752.6,223 L744.1999999999999,223 Z" fill="#111"/>
<text transform="translate(750.85,208.33) scale(1.0202,1)" font-family='"Liberation Sans", Arial, sans-serif'  font-size="16.62" fill="#222" >20 nm</text>
<text transform="translate(638.68,277.80) scale(1.1045,1)" font-family='"Liberation Sans", Arial, sans-serif'  font-size="19.42" fill="#2a2a2a" stroke="#2a2a2a" stroke-width="0.3">PL/SA(AV)/Ab</text>
<rect x="638.8" y="324.8" width="126.20000000000005" height="16.4" fill="#ecc63a"/>
<path d="M640.8,324.8 Q639.2,333.5 637.4,341.2 M644.8,324.8 Q643.8,333.5 642.4,341.2 M648.5,324.8 Q647.1,333.5 644.6,341.2 M652.4,324.8 Q651.5,333.5 649.0,341.2 M656.6,324.8 Q655.6,333.5 654.7,341.2 M661.0,324.8 Q659.4,333.5 657.3,341.2 M665.6,324.8 Q664.6,333.5 662.9,341.2 M670.0,324.8 Q668.5,333.5 666.2,341.2 M674.3,324.8 Q671.9,333.5 671.1,341.2 M679.0,324.8 Q677.9,333.5 676.1,341.2 M683.6,324.8 Q683.2,333.5 681.4,341.2 M687.7,324.8 Q686.6,333.5 685.7,341.2 M692.4,324.8 Q690.9,333.5 690.6,341.2 M696.2,324.8 Q695.2,333.5 692.7,341.2 M700.3,324.8 Q698.8,333.5 697.9,341.2 M704.5,324.8 Q702.8,333.5 701.5,341.2 M708.8,324.8 Q708.2,333.5 706.3,341.2 M713.2,324.8 Q713.0,333.5 711.5,341.2 M718.0,324.8 Q716.3,333.5 715.7,341.2 M722.6,324.8 Q722.5,333.5 721.1,341.2 M726.9,324.8 Q725.4,333.5 724.7,341.2 M731.5,324.8 Q729.9,333.5 729.0,341.2 M735.2,324.8 Q735.1,333.5 733.3,341.2 M738.9,324.8 Q737.8,333.5 736.9,341.2 M742.7,324.8 Q741.5,333.5 739.4,341.2 M747.3,324.8 Q745.6,333.5 743.5,341.2 M751.0,324.8 Q749.6,333.5 748.8,341.2 M755.7,324.8 Q754.9,333.5 754.1,341.2 M760.4,324.8 Q758.2,333.5 757.2,341.2 M764.8,324.8 Q762.3,333.5 760.8,341.2" stroke="#1c1408" stroke-width="2.1" fill="none" opacity="0.92"/>
<g fill="#d4202e"><circle cx="640.3" cy="325.8" r="2.0"/><circle cx="645.6" cy="325.8" r="2.0"/><circle cx="650.9" cy="325.8" r="2.0"/><circle cx="656.2" cy="325.8" r="2.0"/><circle cx="661.5" cy="325.8" r="2.0"/><circle cx="666.8" cy="325.8" r="2.0"/><circle cx="672.1" cy="325.8" r="2.0"/><circle cx="677.4" cy="325.8" r="2.0"/><circle cx="682.7" cy="325.8" r="2.0"/><circle cx="688.0" cy="325.8" r="2.0"/><circle cx="693.3" cy="325.8" r="2.0"/><circle cx="698.6" cy="325.8" r="2.0"/><circle cx="703.9" cy="325.8" r="2.0"/><circle cx="709.2" cy="325.8" r="2.0"/><circle cx="714.5" cy="325.8" r="2.0"/><circle cx="719.8" cy="325.8" r="2.0"/><circle cx="725.1" cy="325.8" r="2.0"/><circle cx="730.4" cy="325.8" r="2.0"/><circle cx="735.7" cy="325.8" r="2.0"/><circle cx="741.0" cy="325.8" r="2.0"/><circle cx="746.3" cy="325.8" r="2.0"/><circle cx="751.6" cy="325.8" r="2.0"/><circle cx="756.9" cy="325.8" r="2.0"/><circle cx="762.2" cy="325.8" r="2.0"/><circle cx="639.6" cy="341.2" r="2.1"/><circle cx="644.9" cy="341.2" r="2.1"/><circle cx="650.2" cy="341.2" r="2.1"/><circle cx="655.5" cy="341.2" r="2.1"/><circle cx="660.8" cy="341.2" r="2.1"/><circle cx="666.1" cy="341.2" r="2.1"/><circle cx="671.4" cy="341.2" r="2.1"/><circle cx="676.7" cy="341.2" r="2.1"/><circle cx="682.0" cy="341.2" r="2.1"/><circle cx="687.3" cy="341.2" r="2.1"/><circle cx="692.6" cy="341.2" r="2.1"/><circle cx="697.9" cy="341.2" r="2.1"/><circle cx="703.2" cy="341.2" r="2.1"/><circle cx="708.5" cy="341.2" r="2.1"/><circle cx="713.8" cy="341.2" r="2.1"/><circle cx="719.1" cy="341.2" r="2.1"/><circle cx="724.4" cy="341.2" r="2.1"/><circle cx="729.7" cy="341.2" r="2.1"/><circle cx="735.0" cy="341.2" r="2.1"/><circle cx="740.3" cy="341.2" r="2.1"/><circle cx="745.6" cy="341.2" r="2.1"/><circle cx="750.9" cy="341.2" r="2.1"/><circle cx="756.2" cy="341.2" r="2.1"/><circle cx="761.5" cy="341.2" r="2.1"/></g>
<rect x="646.4" y="297.2" width="10.7" height="7.4" rx="2" fill="#b0de78" stroke="#163a0e" stroke-width="1.5"/><path d="M649.1,296.7 L654.3,296.7 L651.7,301.3 Z" fill="#163a0e"/><rect x="646.4" y="305.6" width="10.7" height="7.4" rx="2" fill="#b0de78" stroke="#163a0e" stroke-width="1.5"/><path d="M648.9,313.5 L654.5,313.5 L651.7,308.5 Z" fill="#163a0e"/><rect x="658.0" y="297.2" width="10.7" height="7.4" rx="2" fill="#b0de78" stroke="#163a0e" stroke-width="1.5"/><path d="M660.8,296.7 L666.0,296.7 L663.4,301.3 Z" fill="#163a0e"/><rect x="658.0" y="305.6" width="10.7" height="7.4" rx="2" fill="#b0de78" stroke="#163a0e" stroke-width="1.5"/><path d="M660.6,313.5 L666.2,313.5 L663.4,308.5 Z" fill="#163a0e"/>
<path d="M651.9,312.59999999999997 L653.0699999999999,314.03 L654.5,315.2 L653.0699999999999,316.37 L651.9,317.8 L650.73,316.37 L649.3,315.2 L650.73,314.03 Z" fill="#f7a21c"/>
<path d="M651.9,316.7 L655.9,322.1" stroke="#2a2a2a" stroke-width="1" fill="none"/><circle cx="655.9" cy="322.1" r="1.8" fill="#7a1020"/>
<path d="M661.9,312.59999999999997 L663.0699999999999,314.03 L664.5,315.2 L663.0699999999999,316.37 L661.9,317.8 L660.73,316.37 L659.3,315.2 L660.73,314.03 Z" fill="#f7a21c"/>
<path d="M661.9,316.7 L665.9,322.1" stroke="#2a2a2a" stroke-width="1" fill="none"/><circle cx="665.9" cy="322.1" r="1.8" fill="#7a1020"/>
<rect x="711.5" y="297.2" width="10.7" height="7.4" rx="2" fill="#b0de78" stroke="#163a0e" stroke-width="1.5"/><path d="M714.2,296.7 L719.4,296.7 L716.8,301.3 Z" fill="#163a0e"/><rect x="711.5" y="305.6" width="10.7" height="7.4" rx="2" fill="#b0de78" stroke="#163a0e" stroke-width="1.5"/><path d="M714.0,313.5 L719.6,313.5 L716.8,308.5 Z" fill="#163a0e"/><rect x="723.1" y="297.2" width="10.7" height="7.4" rx="2" fill="#b0de78" stroke="#163a0e" stroke-width="1.5"/><path d="M725.9,296.7 L731.1,296.7 L728.5,301.3 Z" fill="#163a0e"/><rect x="723.1" y="305.6" width="10.7" height="7.4" rx="2" fill="#b0de78" stroke="#163a0e" stroke-width="1.5"/><path d="M725.7,313.5 L731.3,313.5 L728.5,308.5 Z" fill="#163a0e"/>
<path d="M717.0,312.59999999999997 L718.17,314.03 L719.6,315.2 L718.17,316.37 L717.0,317.8 L715.83,316.37 L714.4,315.2 L715.83,314.03 Z" fill="#f7a21c"/>
<path d="M717.0,316.7 L721.0,322.1" stroke="#2a2a2a" stroke-width="1" fill="none"/><circle cx="721.0" cy="322.1" r="1.8" fill="#7a1020"/>
<path d="M727.0,312.59999999999997 L728.17,314.03 L729.6,315.2 L728.17,316.37 L727.0,317.8 L725.83,316.37 L724.4,315.2 L725.83,314.03 Z" fill="#f7a21c"/>
<path d="M727.0,316.7 L731.0,322.1" stroke="#2a2a2a" stroke-width="1" fill="none"/><circle cx="731.0" cy="322.1" r="1.8" fill="#7a1020"/>
<path d="M756.3,303.5 V310.8" stroke="#1a1a1a" stroke-width="1.5"/><path d="M756.3,298 L759.5999999999999,304.5 L753.0,304.5 Z M756.3,316.3 L759.5999999999999,309.8 L753.0,309.8 Z" fill="#111"/>
<text transform="translate(764.52,310.53) scale(1.0127,1)" font-family='"Liberation Sans", Arial, sans-serif'  font-size="16.71" fill="#222" >5 nm</text>
<text transform="translate(653.94,364.60) scale(0.9946,1)" font-family='"Liberation Sans", Arial, sans-serif'  font-size="20.87" fill="#2a2a2a" stroke="#2a2a2a" stroke-width="0.3">PL/SA(AV)</text>
<path d="M536.2,215.5 L639.6,109.2 M536.2,233.2 L636.7,342.5" stroke="#333" stroke-width="1.3" stroke-dasharray="5,3.5" fill="none"/>
<text transform="translate(497.92,423.54) scale(0.9023,1)" font-family='"Liberation Serif", "Times New Roman", serif'  font-size="29.12" fill="#111" >(</text>
<text transform="translate(507.82,423.75) scale(0.9385,1)" font-family='"Liberation Serif", "Times New Roman", serif' font-weight="bold" font-size="30.08" fill="#111" >A</text>
<text transform="translate(529.59,423.62) scale(0.9144,1)" font-family='"Liberation Serif", "Times New Roman", serif'  font-size="29.44" fill="#111" >)</text>
<rect x="89.9" y="449.5" width="410.5" height="380.6" fill="none" stroke="#3a3a3a" stroke-width="1.7"/>
<line x1="89.63" y1="830.1" x2="89.63" y2="834.5" stroke="#3a3a3a" stroke-width="1.2"/>
<line x1="94.10" y1="830.1" x2="94.10" y2="834.5" stroke="#3a3a3a" stroke-width="1.2"/>
<line x1="98.10" y1="830.1" x2="98.10" y2="836.7" stroke="#3a3a3a" stroke-width="1.5"/>
<line x1="124.41" y1="830.1" x2="124.41" y2="834.5" stroke="#3a3a3a" stroke-width="1.2"/>
<line x1="139.80" y1="830.1" x2="139.80" y2="834.5" stroke="#3a3a3a" stroke-width="1.2"/>
<line x1="150.72" y1="830.1" x2="150.72" y2="834.5" stroke="#3a3a3a" stroke-width="1.2"/>
<line x1="159.19" y1="830.1" x2="159.19" y2="834.5" stroke="#3a3a3a" stroke-width="1.2"/>
<line x1="166.11" y1="830.1" x2="166.11" y2="834.5" stroke="#3a3a3a" stroke-width="1.2"/>
<line x1="171.96" y1="830.1" x2="171.96" y2="834.5" stroke="#3a3a3a" stroke-width="1.2"/>
<line x1="177.03" y1="830.1" x2="177.03" y2="834.5" stroke="#3a3a3a" stroke-width="1.2"/>
<line x1="181.50" y1="830.1" x2="181.50" y2="834.5" stroke="#3a3a3a" stroke-width="1.2"/>
<line x1="185.50" y1="830.1" x2="185.50" y2="836.7" stroke="#3a3a3a" stroke-width="1.5"/>
<line x1="211.81" y1="830.1" x2="211.81" y2="834.5" stroke="#3a3a3a" stroke-width="1.2"/>
<line x1="227.20" y1="830.1" x2="227.20" y2="834.5" stroke="#3a3a3a" stroke-width="1.2"/>
<line x1="238.12" y1="830.1" x2="238.12" y2="834.5" stroke="#3a3a3a" stroke-width="1.2"/>
<line x1="246.59" y1="830.1" x2="246.59" y2="834.5" stroke="#3a3a3a" stroke-width="1.2"/>
<line x1="253.51" y1="830.1" x2="253.51" y2="834.5" stroke="#3a3a3a" stroke-width="1.2"/>
<line x1="259.36" y1="830.1" x2="259.36" y2="834.5" stroke="#3a3a3a" stroke-width="1.2"/>
<line x1="264.43" y1="830.1" x2="264.43" y2="834.5" stroke="#3a3a3a" stroke-width="1.2"/>
<line x1="268.90" y1="830.1" x2="268.90" y2="834.5" stroke="#3a3a3a" stroke-width="1.2"/>
<line x1="272.90" y1="830.1" x2="272.90" y2="836.7" stroke="#3a3a3a" stroke-width="1.5"/>
<line x1="299.21" y1="830.1" x2="299.21" y2="834.5" stroke="#3a3a3a" stroke-width="1.2"/>
<line x1="314.60" y1="830.1" x2="314.60" y2="834.5" stroke="#3a3a3a" stroke-width="1.2"/>
<line x1="325.52" y1="830.1" x2="325.52" y2="834.5" stroke="#3a3a3a" stroke-width="1.2"/>
<line x1="333.99" y1="830.1" x2="333.99" y2="834.5" stroke="#3a3a3a" stroke-width="1.2"/>
<line x1="340.91" y1="830.1" x2="340.91" y2="834.5" stroke="#3a3a3a" stroke-width="1.2"/>
<line x1="346.76" y1="830.1" x2="346.76" y2="834.5" stroke="#3a3a3a" stroke-width="1.2"/>
<line x1="351.83" y1="830.1" x2="351.83" y2="834.5" stroke="#3a3a3a" stroke-width="1.2"/>
<line x1="356.30" y1="830.1" x2="356.30" y2="834.5" stroke="#3a3a3a" stroke-width="1.2"/>
<line x1="360.30" y1="830.1" x2="360.30" y2="836.7" stroke="#3a3a3a" stroke-width="1.5"/>
<line x1="386.61" y1="830.1" x2="386.61" y2="834.5" stroke="#3a3a3a" stroke-width="1.2"/>
<line x1="402.00" y1="830.1" x2="402.00" y2="834.5" stroke="#3a3a3a" stroke-width="1.2"/>
<line x1="412.92" y1="830.1" x2="412.92" y2="834.5" stroke="#3a3a3a" stroke-width="1.2"/>
<line x1="421.39" y1="830.1" x2="421.39" y2="834.5" stroke="#3a3a3a" stroke-width="1.2"/>
<line x1="428.31" y1="830.1" x2="428.31" y2="834.5" stroke="#3a3a3a" stroke-width="1.2"/>
<line x1="434.16" y1="830.1" x2="434.16" y2="834.5" stroke="#3a3a3a" stroke-width="1.2"/>
<line x1="439.23" y1="830.1" x2="439.23" y2="834.5" stroke="#3a3a3a" stroke-width="1.2"/>
<line x1="443.70" y1="830.1" x2="443.70" y2="834.5" stroke="#3a3a3a" stroke-width="1.2"/>
<line x1="447.70" y1="830.1" x2="447.70" y2="836.7" stroke="#3a3a3a" stroke-width="1.5"/>
<line x1="474.01" y1="830.1" x2="474.01" y2="834.5" stroke="#3a3a3a" stroke-width="1.2"/>
<line x1="489.40" y1="830.1" x2="489.40" y2="834.5" stroke="#3a3a3a" stroke-width="1.2"/>
<line x1="500.32" y1="830.1" x2="500.32" y2="834.5" stroke="#3a3a3a" stroke-width="1.2"/>
<line x1="83.4" y1="474.87" x2="89.9" y2="474.87" stroke="#3a3a3a" stroke-width="1.5"/>
<line x1="83.4" y1="576.37" x2="89.9" y2="576.37" stroke="#3a3a3a" stroke-width="1.5"/>
<line x1="83.4" y1="677.86" x2="89.9" y2="677.86" stroke="#3a3a3a" stroke-width="1.5"/>
<line x1="83.4" y1="779.35" x2="89.9" y2="779.35" stroke="#3a3a3a" stroke-width="1.5"/>
<line x1="85.9" y1="525.62" x2="89.9" y2="525.62" stroke="#3a3a3a" stroke-width="1.2"/>
<line x1="85.9" y1="627.11" x2="89.9" y2="627.11" stroke="#3a3a3a" stroke-width="1.2"/>
<line x1="85.9" y1="728.61" x2="89.9" y2="728.61" stroke="#3a3a3a" stroke-width="1.2"/>
<line x1="85.9" y1="830.10" x2="89.9" y2="830.10" stroke="#3a3a3a" stroke-width="1.2"/>
<line x1="89.9" y1="474.87" x2="500.4" y2="474.87" stroke="#3a3a3a" stroke-width="1.6"/>
<text transform="translate(47.93,480.69) scale(0.9333,1)" font-family='"Liberation Sans", Arial, sans-serif' font-weight="bold" font-size="23.31" fill="#111" stroke="#111" stroke-width="0.3">0,0</text>
<text transform="translate(40.22,582.18) scale(0.9469,1)" font-family='"Liberation Sans", Arial, sans-serif' font-weight="bold" font-size="23.31" fill="#111" stroke="#111" stroke-width="0.3">-0,2</text>
<text transform="translate(40.24,683.68) scale(0.9272,1)" font-family='"Liberation Sans", Arial, sans-serif' font-weight="bold" font-size="23.31" fill="#111" stroke="#111" stroke-width="0.3">-0,4</text>
<text transform="translate(40.22,785.17) scale(0.9441,1)" font-family='"Liberation Sans", Arial, sans-serif' font-weight="bold" font-size="23.31" fill="#111" stroke="#111" stroke-width="0.3">-0,6</text>
<text transform="translate(76.18,857.87) scale(0.8858,1)" font-family='"Liberation Sans", Arial, sans-serif' font-weight="bold" font-size="23.24" fill="#111" stroke="#111" stroke-width="0.3">0,01</text>
<text transform="translate(169.36,857.87) scale(0.9061,1)" font-family='"Liberation Sans", Arial, sans-serif' font-weight="bold" font-size="23.24" fill="#111" stroke="#111" stroke-width="0.3">0,1</text>
<text transform="translate(267.25,857.87) scale(0.6940,1)" font-family='"Liberation Sans", Arial, sans-serif' font-weight="bold" font-size="23.24" fill="#111" stroke="#111" stroke-width="0.3">1</text>
<text transform="translate(347.43,857.87) scale(0.9762,1)" font-family='"Liberation Sans", Arial, sans-serif' font-weight="bold" font-size="23.24" fill="#111" stroke="#111" stroke-width="0.3">10</text>
<text transform="translate(429.07,857.87) scale(0.9434,1)" font-family='"Liberation Sans", Arial, sans-serif' font-weight="bold" font-size="23.24" fill="#111" stroke="#111" stroke-width="0.3">100</text>
<rect x="110.21" y="689.60" width="12.4" height="12.4" fill="#3a53a6"/>
<rect x="197.61" y="623.90" width="12.4" height="12.4" fill="#3a53a6"/>
<rect x="285.01" y="521.70" width="12.4" height="12.4" fill="#3a53a6"/>
<rect x="372.41" y="488.90" width="12.4" height="12.4" fill="#3a53a6"/>
<rect x="459.81" y="461.90" width="12.4" height="12.4" fill="#3a53a6"/>
<circle cx="116.41" cy="775.80" r="5.61" fill="none" stroke="#ea1c24" stroke-width="2.98"/>
<path d="M110.80,775.80 H122.02 M116.41,770.19 V781.41" stroke="#ea1c24" stroke-width="2.39"/>
<circle cx="203.81" cy="751.30" r="5.61" fill="none" stroke="#ea1c24" stroke-width="2.98"/>
<path d="M198.20,751.30 H209.42 M203.81,745.69 V756.91" stroke="#ea1c24" stroke-width="2.39"/>
<circle cx="291.21" cy="695.70" r="5.61" fill="none" stroke="#ea1c24" stroke-width="2.98"/>
<path d="M285.60,695.70 H296.82 M291.21,690.09 V701.31" stroke="#ea1c24" stroke-width="2.39"/>
<circle cx="378.61" cy="521.60" r="5.61" fill="none" stroke="#ea1c24" stroke-width="2.98"/>
<path d="M373.00,521.60 H384.22 M378.61,515.99 V527.21" stroke="#ea1c24" stroke-width="2.39"/>
<circle cx="466.01" cy="474.50" r="5.61" fill="none" stroke="#ea1c24" stroke-width="2.98"/>
<path d="M460.40,474.50 H471.62 M466.01,468.89 V480.11" stroke="#ea1c24" stroke-width="2.39"/>
<polygon points="116.41,726.60 119.06,732.35 125.35,733.10 120.70,737.39 121.94,743.60 116.41,740.51 110.89,743.60 112.12,737.39 107.47,733.10 113.76,732.35" fill="#000"/>
<polygon points="203.81,611.20 206.46,616.95 212.75,617.70 208.10,621.99 209.34,628.20 203.81,625.11 198.29,628.20 199.52,621.99 194.87,617.70 201.16,616.95" fill="#000"/>
<polygon points="291.21,489.40 293.86,495.15 300.15,495.90 295.50,500.19 296.74,506.40 291.21,503.31 285.69,506.40 286.92,500.19 282.27,495.90 288.56,495.15" fill="#000"/>
<polygon points="378.61,450.80 381.26,456.55 387.55,457.30 382.90,461.59 384.14,467.80 378.61,464.71 373.09,467.80 374.32,461.59 369.67,457.30 375.96,456.55" fill="#000"/>
<polygon points="466.01,465.10 468.66,470.85 474.95,471.60 470.30,475.89 471.54,482.10 466.01,479.01 460.49,482.10 461.72,475.89 457.07,471.60 463.36,470.85" fill="#000"/>
<rect x="116.4" y="511.4" width="101.2" height="58.2" fill="#fff" stroke="#3a3a3a" stroke-width="1.6"/>
<rect x="130.15" y="516.05" width="11.7" height="11.7" fill="#3a53a6"/>
<circle cx="136.00" cy="541.60" r="5.45" fill="none" stroke="#ea1c24" stroke-width="2.90"/>
<path d="M130.55,541.60 H141.45 M136.00,536.15 V547.05" stroke="#ea1c24" stroke-width="2.32"/>
<polygon points="136.00,551.10 138.51,556.54 144.46,557.25 140.06,561.32 141.23,567.20 136.00,564.27 130.77,567.20 131.94,561.32 127.54,557.25 133.49,556.54" fill="#000"/>
<text transform="translate(156.98,527.60) scale(0.9158,1)" font-family='"Liberation Sans", Arial, sans-serif'  font-size="17.39" fill="#222" >SA/Ab</text>
<text transform="translate(157.12,546.10) scale(1.0143,1)" font-family='"Liberation Sans", Arial, sans-serif'  font-size="16.09" fill="#222" >AV/Ab</text>
<text transform="translate(156.92,566.10) scale(0.9169,1)" font-family='"Liberation Sans", Arial, sans-serif'  font-size="17.39" fill="#222" >PL</text>
<text transform="translate(461.03,819.27) scale(0.8250,1)" font-family='"Liberation Sans", Arial, sans-serif' font-weight="bold" font-size="43.27" fill="#000" >a</text>
<text transform="translate(259.06,890.20) scale(1.2180,1)" font-family='"Liberation Serif", "Times New Roman", serif' font-style="italic" font-size="35.00" fill="#111" >i</text>
<text transform="translate(269.65,903.39) scale(1.1049,1)" font-family='"Liberation Serif", "Times New Roman", serif' font-style="italic" font-size="21.25" fill="#111" >s</text>
<text transform="translate(287.80,890.80) scale(0.9921,1)" font-family='"Liberation Sans", Arial, sans-serif'  font-size="37.83" fill="#111" >/mM</text>
<g transform="rotate(-90)"><text transform="translate(-664.25,41.30) scale(0.9561,1)" font-family='"Liberation Sans", Arial, sans-serif'  font-size="36.52" fill="#111" >Δ</text><text transform="translate(-640.64,41.30) scale(0.7362,1)" font-family='"Liberation Sans", Arial, sans-serif' font-weight="bold" font-size="38.41" fill="#111" >I</text><text transform="translate(-630.80,40.94) scale(0.9481,1)" font-family='"Liberation Sans", Arial, sans-serif'  font-size="36.05" fill="#111" >/</text><text transform="translate(-619.21,41.30) scale(0.6465,1)" font-family='"Liberation Sans", Arial, sans-serif' font-weight="bold" font-size="38.41" fill="#111" >I</text><text transform="translate(-610.83,54.57) scale(1.0056,1)" font-family='"Liberation Sans", Arial, sans-serif'  font-size="23.24" fill="#111" >0</text></g>
<rect x="596.4" y="450.2" width="412.1" height="380.7" fill="none" stroke="#3a3a3a" stroke-width="1.7"/>
<line x1="601.09" y1="830.9" x2="601.09" y2="835.3" stroke="#3a3a3a" stroke-width="1.2"/>
<line x1="605.53" y1="830.9" x2="605.53" y2="835.3" stroke="#3a3a3a" stroke-width="1.2"/>
<line x1="609.50" y1="830.9" x2="609.50" y2="837.5" stroke="#3a3a3a" stroke-width="1.5"/>
<line x1="635.63" y1="830.9" x2="635.63" y2="835.3" stroke="#3a3a3a" stroke-width="1.2"/>
<line x1="650.91" y1="830.9" x2="650.91" y2="835.3" stroke="#3a3a3a" stroke-width="1.2"/>
<line x1="661.76" y1="830.9" x2="661.76" y2="835.3" stroke="#3a3a3a" stroke-width="1.2"/>
<line x1="670.17" y1="830.9" x2="670.17" y2="835.3" stroke="#3a3a3a" stroke-width="1.2"/>
<line x1="677.04" y1="830.9" x2="677.04" y2="835.3" stroke="#3a3a3a" stroke-width="1.2"/>
<line x1="682.85" y1="830.9" x2="682.85" y2="835.3" stroke="#3a3a3a" stroke-width="1.2"/>
<line x1="687.89" y1="830.9" x2="687.89" y2="835.3" stroke="#3a3a3a" stroke-width="1.2"/>
<line x1="692.33" y1="830.9" x2="692.33" y2="835.3" stroke="#3a3a3a" stroke-width="1.2"/>
<line x1="696.30" y1="830.9" x2="696.30" y2="837.5" stroke="#3a3a3a" stroke-width="1.5"/>
<line x1="722.43" y1="830.9" x2="722.43" y2="835.3" stroke="#3a3a3a" stroke-width="1.2"/>
<line x1="737.71" y1="830.9" x2="737.71" y2="835.3" stroke="#3a3a3a" stroke-width="1.2"/>
<line x1="748.56" y1="830.9" x2="748.56" y2="835.3" stroke="#3a3a3a" stroke-width="1.2"/>
<line x1="756.97" y1="830.9" x2="756.97" y2="835.3" stroke="#3a3a3a" stroke-width="1.2"/>
<line x1="763.84" y1="830.9" x2="763.84" y2="835.3" stroke="#3a3a3a" stroke-width="1.2"/>
<line x1="769.65" y1="830.9" x2="769.65" y2="835.3" stroke="#3a3a3a" stroke-width="1.2"/>
<line x1="774.69" y1="830.9" x2="774.69" y2="835.3" stroke="#3a3a3a" stroke-width="1.2"/>
<line x1="779.13" y1="830.9" x2="779.13" y2="835.3" stroke="#3a3a3a" stroke-width="1.2"/>
<line x1="783.10" y1="830.9" x2="783.10" y2="837.5" stroke="#3a3a3a" stroke-width="1.5"/>
<line x1="809.23" y1="830.9" x2="809.23" y2="835.3" stroke="#3a3a3a" stroke-width="1.2"/>
<line x1="824.51" y1="830.9" x2="824.51" y2="835.3" stroke="#3a3a3a" stroke-width="1.2"/>
<line x1="835.36" y1="830.9" x2="835.36" y2="835.3" stroke="#3a3a3a" stroke-width="1.2"/>
<line x1="843.77" y1="830.9" x2="843.77" y2="835.3" stroke="#3a3a3a" stroke-width="1.2"/>
<line x1="850.64" y1="830.9" x2="850.64" y2="835.3" stroke="#3a3a3a" stroke-width="1.2"/>
<line x1="856.45" y1="830.9" x2="856.45" y2="835.3" stroke="#3a3a3a" stroke-width="1.2"/>
<line x1="861.49" y1="830.9" x2="861.49" y2="835.3" stroke="#3a3a3a" stroke-width="1.2"/>
<line x1="865.93" y1="830.9" x2="865.93" y2="835.3" stroke="#3a3a3a" stroke-width="1.2"/>
<line x1="869.90" y1="830.9" x2="869.90" y2="837.5" stroke="#3a3a3a" stroke-width="1.5"/>
<line x1="896.03" y1="830.9" x2="896.03" y2="835.3" stroke="#3a3a3a" stroke-width="1.2"/>
<line x1="911.31" y1="830.9" x2="911.31" y2="835.3" stroke="#3a3a3a" stroke-width="1.2"/>
<line x1="922.16" y1="830.9" x2="922.16" y2="835.3" stroke="#3a3a3a" stroke-width="1.2"/>
<line x1="930.57" y1="830.9" x2="930.57" y2="835.3" stroke="#3a3a3a" stroke-width="1.2"/>
<line x1="937.44" y1="830.9" x2="937.44" y2="835.3" stroke="#3a3a3a" stroke-width="1.2"/>
<line x1="943.25" y1="830.9" x2="943.25" y2="835.3" stroke="#3a3a3a" stroke-width="1.2"/>
<line x1="948.29" y1="830.9" x2="948.29" y2="835.3" stroke="#3a3a3a" stroke-width="1.2"/>
<line x1="952.73" y1="830.9" x2="952.73" y2="835.3" stroke="#3a3a3a" stroke-width="1.2"/>
<line x1="956.70" y1="830.9" x2="956.70" y2="837.5" stroke="#3a3a3a" stroke-width="1.5"/>
<line x1="982.83" y1="830.9" x2="982.83" y2="835.3" stroke="#3a3a3a" stroke-width="1.2"/>
<line x1="998.11" y1="830.9" x2="998.11" y2="835.3" stroke="#3a3a3a" stroke-width="1.2"/>
<line x1="589.9" y1="492.50" x2="596.4" y2="492.50" stroke="#3a3a3a" stroke-width="1.5"/>
<line x1="589.9" y1="661.70" x2="596.4" y2="661.70" stroke="#3a3a3a" stroke-width="1.5"/>
<line x1="589.9" y1="830.90" x2="596.4" y2="830.90" stroke="#3a3a3a" stroke-width="1.5"/>
<line x1="592.4" y1="577.10" x2="596.4" y2="577.10" stroke="#3a3a3a" stroke-width="1.2"/>
<line x1="592.4" y1="746.30" x2="596.4" y2="746.30" stroke="#3a3a3a" stroke-width="1.2"/>
<text transform="translate(554.39,497.87) scale(1.0032,1)" font-family='"Liberation Sans", Arial, sans-serif' font-weight="bold" font-size="22.68" fill="#111" stroke="#111" stroke-width="0.3">0,0</text>
<text transform="translate(547.30,667.58) scale(1.0111,1)" font-family='"Liberation Sans", Arial, sans-serif' font-weight="bold" font-size="22.25" fill="#111" stroke="#111" stroke-width="0.3">-0,2</text>
<text transform="translate(547.32,837.07) scale(0.9715,1)" font-family='"Liberation Sans", Arial, sans-serif' font-weight="bold" font-size="22.68" fill="#111" stroke="#111" stroke-width="0.3">-0,4</text>
<text transform="translate(591.38,856.71) scale(0.9582,1)" font-family='"Liberation Sans", Arial, sans-serif' font-weight="bold" font-size="18.87" fill="#111" stroke="#111" stroke-width="0.3">0,01</text>
<text transform="translate(682.78,856.71) scale(0.9477,1)" font-family='"Liberation Sans", Arial, sans-serif' font-weight="bold" font-size="18.87" fill="#111" stroke="#111" stroke-width="0.3">0,1</text>
<text transform="translate(776.84,856.71) scale(0.8660,1)" font-family='"Liberation Sans", Arial, sans-serif' font-weight="bold" font-size="18.87" fill="#111" stroke="#111" stroke-width="0.3">1</text>
<text transform="translate(858.60,856.71) scale(0.9753,1)" font-family='"Liberation Sans", Arial, sans-serif' font-weight="bold" font-size="18.87" fill="#111" stroke="#111" stroke-width="0.3">10</text>
<text transform="translate(939.72,856.71) scale(0.9612,1)" font-family='"Liberation Sans", Arial, sans-serif' font-weight="bold" font-size="18.87" fill="#111" stroke="#111" stroke-width="0.3">100</text>
<path d="M627.69,785.50 L637.49,795.30 L627.69,805.10 L617.89,795.30 Z" fill="#3a53a6"/>
<path d="M714.49,756.40 L724.29,766.20 L714.49,776.00 L704.69,766.20 Z" fill="#3a53a6"/>
<path d="M801.29,669.70 L811.09,679.50 L801.29,689.30 L791.49,679.50 Z" fill="#3a53a6"/>
<path d="M888.09,613.40 L897.89,623.20 L888.09,633.00 L878.29,623.20 Z" fill="#3a53a6"/>
<path d="M974.89,482.20 L984.69,492.00 L974.89,501.80 L965.09,492.00 Z" fill="#3a53a6"/>
<circle cx="627.69" cy="799.00" r="6.89" fill="none" stroke="#ea1c24" stroke-width="3.02"/>
<path d="M620.80,799.00 H634.57 M627.69,792.11 V805.89" stroke="#ea1c24" stroke-width="2.42"/>
<circle cx="714.49" cy="754.50" r="6.89" fill="none" stroke="#ea1c24" stroke-width="3.02"/>
<path d="M707.60,754.50 H721.37 M714.49,747.61 V761.39" stroke="#ea1c24" stroke-width="2.42"/>
<circle cx="801.29" cy="700.50" r="6.89" fill="none" stroke="#ea1c24" stroke-width="3.02"/>
<path d="M794.40,700.50 H808.17 M801.29,693.61 V707.39" stroke="#ea1c24" stroke-width="2.42"/>
<circle cx="888.09" cy="623.20" r="6.89" fill="none" stroke="#ea1c24" stroke-width="3.02"/>
<path d="M881.20,623.20 H894.97 M888.09,616.31 V630.09" stroke="#ea1c24" stroke-width="2.42"/>
<circle cx="974.89" cy="492.00" r="6.89" fill="none" stroke="#ea1c24" stroke-width="3.02"/>
<path d="M968.00,492.00 H981.77 M974.89,485.11 V498.89" stroke="#ea1c24" stroke-width="2.42"/>
<rect x="622" y="512.4" width="176.4" height="39.7" fill="#fff" stroke="#3a3a3a" stroke-width="1.6"/>
<path d="M643.00,512.90 L652.90,522.80 L643.00,532.70 L633.10,522.80 Z" fill="#3a53a6"/>
<circle cx="643.10" cy="542.30" r="6.72" fill="none" stroke="#ea1c24" stroke-width="2.95"/>
<path d="M636.38,542.30 H649.82 M643.10,535.58 V549.02" stroke="#ea1c24" stroke-width="2.36"/>
<text transform="translate(663.43,528.20) scale(1.0079,1)" font-family='"Liberation Sans", Arial, sans-serif'  font-size="15.80" fill="#222" >PL/SA/Ab/CRP</text>
<text transform="translate(663.41,547.20) scale(1.0194,1)" font-family='"Liberation Sans", Arial, sans-serif'  font-size="15.80" fill="#222" >PL/AV/Ab/CRP</text>
<text transform="translate(966.12,815.76) scale(0.9402,1)" font-family='"Liberation Sans", Arial, sans-serif' font-weight="bold" font-size="43.81" fill="#000" >b</text>
<text transform="translate(769.01,882.20) scale(1.1311,1)" font-family='"Liberation Serif", "Times New Roman", serif' font-style="italic" font-size="36.06" fill="#111" >i</text>
<text transform="translate(779.46,895.29) scale(1.0776,1)" font-family='"Liberation Serif", "Times New Roman", serif' font-style="italic" font-size="21.25" fill="#111" >s</text>
<text transform="translate(789.20,882.20) scale(0.9923,1)" font-family='"Liberation Sans", Arial, sans-serif'  font-size="37.68" fill="#111" >/mM</text>
<g transform="rotate(-90)"><text transform="translate(-608.19,564.80) scale(0.9536,1)" font-family='"Liberation Sans", Arial, sans-serif' font-weight="bold" font-size="36.38" fill="#111" >Δ</text><text transform="translate(-585.73,564.80) scale(0.9165,1)" font-family='"Liberation Sans", Arial, sans-serif' font-weight="bold" font-size="39.13" fill="#111" >I</text><text transform="translate(-575.59,564.08) scale(1.0825,1)" font-family='"Liberation Sans", Arial, sans-serif' font-weight="bold" font-size="36.24" fill="#111" >/</text><text transform="translate(-563.89,564.80) scale(0.8989,1)" font-family='"Liberation Sans", Arial, sans-serif' font-weight="bold" font-size="39.13" fill="#111" >I</text><text transform="translate(-553.46,578.27) scale(0.9411,1)" font-family='"Liberation Sans", Arial, sans-serif' font-weight="bold" font-size="22.82" fill="#111" >0</text></g>
</svg>
</body></html>
